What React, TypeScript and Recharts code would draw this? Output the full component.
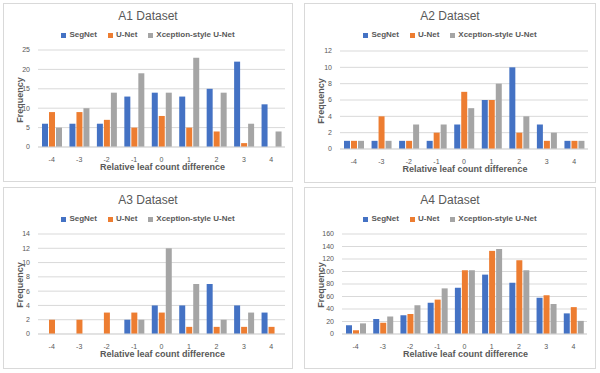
import React from 'react';
import { BarChart, Bar, XAxis, YAxis, CartesianGrid } from 'recharts';

const categories = ['-4', '-3', '-2', '-1', '0', '1', '2', '3', '4'];
const seriesNames = ['SegNet', 'U-Net', 'Xception-style U-Net'];
const colors = ['#4472C4', '#ED7D31', '#A5A5A5'];

const a1SegNet = [6, 6, 6, 13, 14, 13, 15, 22, 11];
const a1UNet = [9, 9, 7, 5, 8, 5, 4, 1, 0];
const a1Xception = [5, 10, 14, 19, 14, 23, 14, 6, 4];

const a2SegNet = [1, 1, 1, 1, 3, 6, 10, 3, 1];
const a2UNet = [1, 4, 1, 2, 7, 6, 2, 1, 1];
const a2Xception = [1, 1, 3, 3, 5, 8, 4, 2, 1];

const a3SegNet = [0, 0, 0, 2, 4, 4, 7, 4, 3];
const a3UNet = [2, 2, 3, 3, 3, 1, 1, 1, 1];
const a3Xception = [0, 0, 0, 2, 12, 7, 2, 3, 0];

const a4SegNet = [14, 24, 30, 50, 74, 95, 82, 58, 33];
const a4UNet = [6, 18, 32, 55, 102, 133, 118, 62, 43];
const a4Xception = [17, 28, 46, 73, 102, 136, 102, 48, 21];

const a1Ticks = [0, 5, 10, 15, 20, 25];
const a2Ticks = [0, 2, 4, 6, 8, 10, 12];
const a3Ticks = [0, 2, 4, 6, 8, 10, 12, 14];
const a4Ticks = [0, 20, 40, 60, 80, 100, 120, 140, 160];

const build = (s: number[], u: number[], x: number[]) =>
  categories.map((c, i) => ({ cat: c, s: s[i], u: u[i], x: x[i] }));

const FONT = '"Liberation Sans", Arial, sans-serif';
const TXT = '#595959';
const X_H = 20;

type PanelProps = {
  title: string;
  data: any[];
  ticks: number[];
  left: number;
  top: number;
  width: number;
  height: number;
  margin: { top: number; right: number; bottom: number; left: number };
  yWidth: number;
};

function Panel({ title, data, ticks, left, top, width, height, margin, yWidth }: PanelProps) {
  const plotTop = margin.top;
  const plotBottom = height - margin.bottom - X_H;
  const plotLeft = margin.left + yWidth;
  const plotRight = width - margin.right;
  const cx = (plotLeft + plotRight) / 2;
  return (
    <div
      style={{
        position: 'absolute',
        left,
        top,
        width,
        height,
        border: '1px solid #D9D9D9',
        boxSizing: 'border-box',
        background: '#fff',
        fontFamily: FONT,
      }}
    >
      <div style={{ position: 'absolute', left: -1, top: -1 }}>
        <BarChart
          width={width}
          height={height}
          data={data}
          margin={margin}
          barSize={6}
          barGap={1}
        >
          <CartesianGrid vertical={false} stroke="#D9D9D9" />
          <XAxis
            dataKey="cat"
            height={X_H}
            axisLine={{ stroke: '#D9D9D9' }}
            tickLine={false}
            tick={{ fontSize: 7, fill: TXT, fontFamily: FONT }}
            tickMargin={4}
          />
          <YAxis
            width={yWidth}
            ticks={ticks}
            domain={[ticks[0], ticks[ticks.length - 1]]}
            axisLine={false}
            tickLine={false}
            interval={0}
            tick={{ fontSize: 7, fill: TXT, fontFamily: FONT }}
          />
          <Bar dataKey="s" name={seriesNames[0]} fill={colors[0]} isAnimationActive={false} />
          <Bar dataKey="u" name={seriesNames[1]} fill={colors[1]} isAnimationActive={false} />
          <Bar dataKey="x" name={seriesNames[2]} fill={colors[2]} isAnimationActive={false} />
        </BarChart>
      </div>
      <div
        style={{
          position: 'absolute',
          left: 0,
          width: '100%',
          top: 4,
          textAlign: 'center',
          fontSize: 12,
          lineHeight: '16px',
          color: TXT,
        }}
      >
        {title}
      </div>
      <div
        style={{
          position: 'absolute',
          left: 0,
          width: '100%',
          top: 26,
          display: 'flex',
          justifyContent: 'center',
          gap: 11,
          fontSize: 8,
          lineHeight: '10px',
          fontWeight: 'bold',
          color: TXT,
        }}
      >
        {seriesNames.map((n, i) => (
          <span key={n} style={{ display: 'flex', alignItems: 'center' }}>
            <span
              style={{
                display: 'inline-block',
                width: 5,
                height: 5,
                background: colors[i],
                marginRight: 3,
              }}
            />
            {n}
          </span>
        ))}
      </div>
      <div
        style={{
          position: 'absolute',
          left: cx - 100,
          width: 200,
          top: plotBottom + 13,
          textAlign: 'center',
          fontSize: 9,
          lineHeight: '12px',
          fontWeight: 'bold',
          color: TXT,
        }}
      >
        Relative leaf count difference
      </div>
      <div
        style={{
          position: 'absolute',
          left: 16 - 50,
          width: 100,
          top: (plotTop + plotBottom) / 2 - 6,
          textAlign: 'center',
          fontSize: 9,
          lineHeight: '12px',
          fontWeight: 'bold',
          color: TXT,
          transform: 'rotate(-90deg)',
        }}
      >
        Frequency
      </div>
    </div>
  );
}

export default function App() {
  return (
    <div
      style={{
        position: 'absolute',
        left: 0,
        top: 0,
        width: 600,
        height: 373,
        background: '#fff',
        overflow: 'hidden',
      }}
    >
      <Panel
        title="A1 Dataset"
        data={build(a1SegNet, a1UNet, a1Xception)}
        ticks={a1Ticks}
        left={3}
        top={3}
        width={290}
        height={179}
        margin={{ top: 47, right: 8, bottom: 15, left: 10 }}
        yWidth={25}
      />
      <Panel
        title="A2 Dataset"
        data={build(a2SegNet, a2UNet, a2Xception)}
        ticks={a2Ticks}
        left={304}
        top={3}
        width={292}
        height={180}
        margin={{ top: 48, right: 8, bottom: 14, left: 11 }}
        yWidth={25}
      />
      <Panel
        title="A3 Dataset"
        data={build(a3SegNet, a3UNet, a3Xception)}
        ticks={a3Ticks}
        left={3}
        top={187}
        width={290}
        height={182}
        margin={{ top: 47, right: 8, bottom: 15, left: 10 }}
        yWidth={25}
      />
      <Panel
        title="A4 Dataset"
        data={build(a4SegNet, a4UNet, a4Xception)}
        ticks={a4Ticks}
        left={304}
        top={187}
        width={292}
        height={182}
        margin={{ top: 47, right: 9, bottom: 15, left: 10 }}
        yWidth={28}
      />
    </div>
  );
}
